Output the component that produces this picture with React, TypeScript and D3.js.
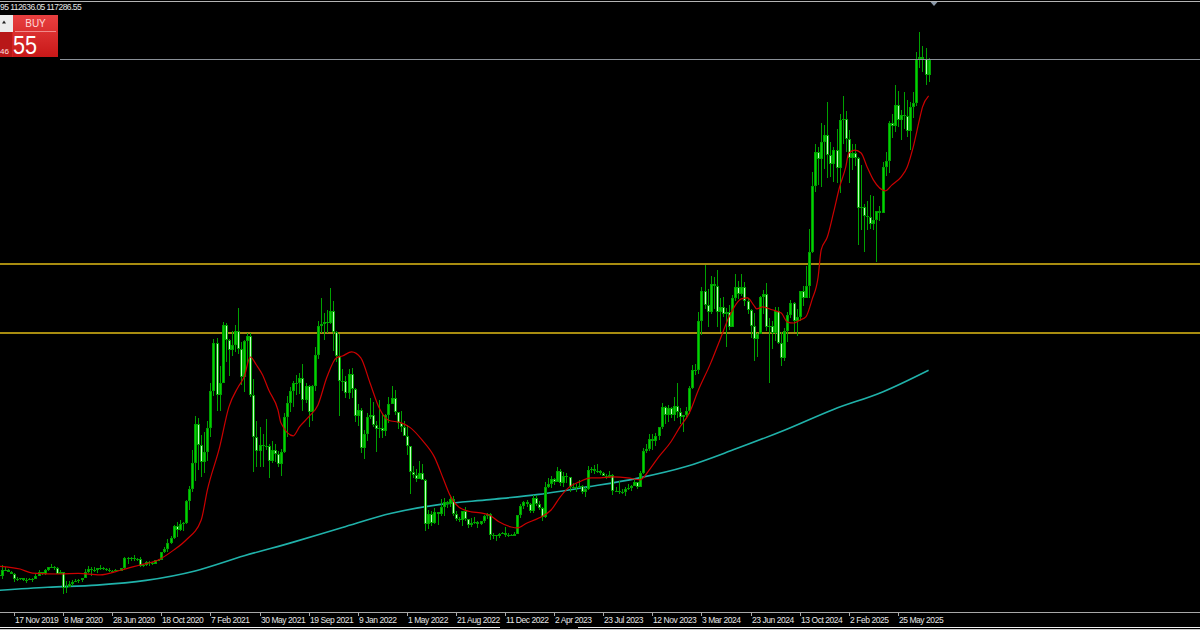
import React from "react";
import * as d3 from "d3";

// ---- Weekly BTCUSD candles (thousands of USD), weeks starting Sunday 13 Oct 2019 ----
const startDate = "2019-10-13";
const firstOpen = 8.3;

const closes = [
  7.95, 9.25, 9.3, 8.8, 8.5, 7.3, 7.4, 7.5, 7.1, 7.15, 7.3, 7.35,
  8.05, 8.9, 8.35, 9.35, 9.9, 9.9, 9.7, 8.55, 8.9, 5.4, 5.8, 6.25,
  6.8, 6.9, 7.25, 7.55, 8.9, 9.55, 9.4, 9.2, 9.7, 9.65, 9.45, 9.35,
  9.0, 9.1, 9.25, 9.15, 9.7, 11.8, 11.7, 11.9, 11.7, 11.7, 10.2, 10.4,
  11.05, 10.7, 10.6, 11.35, 11.5, 13.1, 13.8, 15.0, 16.0, 18.7, 17.7, 19.0,
  19.2, 24.0, 26.4, 32.0, 40.2, 35.8, 32.1, 34.3, 39.3, 47.2, 57.4, 46.3,
  48.9, 61.2, 58.1, 55.9, 57.0, 60.0, 56.2, 50.1, 57.8, 58.9, 46.4, 37.5,
  34.6, 35.8, 35.6, 35.5, 32.3, 34.7, 33.8, 31.8, 34.3, 41.6, 44.6, 47.1,
  49.0, 48.9, 50.0, 45.2, 48.3, 42.7, 48.2, 54.9, 60.9, 61.3, 61.8, 61.5,
  64.2, 59.7, 54.7, 49.4, 49.3, 46.7, 50.8, 47.7, 41.9, 43.1, 35.1, 38.1,
  41.6, 42.2, 40.1, 39.1, 39.4, 38.8, 42.2, 44.5, 45.8, 42.8, 40.4, 39.5,
  37.7, 35.5, 30.1, 29.4, 28.6, 29.9, 28.4, 19.0, 21.2, 19.3, 21.6, 21.2,
  22.6, 23.6, 23.2, 24.4, 21.2, 20.0, 19.8, 21.8, 20.1, 18.9, 19.3, 19.4,
  19.1, 19.6, 20.8, 21.2, 16.8, 16.7, 16.5, 17.0, 17.1, 16.8, 16.8, 16.55,
  17.0, 20.9, 22.9, 23.7, 23.3, 21.8, 24.6, 23.2, 22.4, 20.6, 26.9, 27.5,
  28.5, 28.0, 30.3, 27.8, 29.3, 28.9, 26.8, 26.9, 26.9, 27.1, 25.9, 26.5,
  30.5, 30.6, 30.2, 30.3, 29.8, 29.3, 29.0, 29.4, 26.1, 26.0, 25.9, 25.9,
  26.5, 26.6, 27.0, 27.9, 26.9, 29.9, 34.5, 35.0, 37.1, 36.6, 37.7, 39.5,
  43.8, 42.1, 43.7, 42.1, 44.0, 42.8, 41.6, 42.1, 43.0, 47.8, 51.6, 51.7,
  62.0, 68.3, 65.4, 64.0, 69.9, 69.4, 64.0, 64.9, 63.4, 64.0, 60.8, 67.0,
  69.3, 67.7, 69.3, 66.2, 64.3, 60.9, 58.2, 59.2, 67.1, 67.8, 60.7, 60.9,
  59.5, 64.2, 57.3, 54.1, 60.0, 63.3, 65.9, 62.1, 62.9, 68.4, 67.0, 69.4,
  76.6, 90.6, 97.9, 96.4, 99.9, 101.4, 97.2, 95.3, 98.3, 94.5, 104.5, 104.7,
  100.6, 96.5, 97.5, 96.6, 86.0, 86.2, 84.3, 84.0, 82.6, 83.5, 85.3, 85.0,
  94.6, 96.0, 104.0, 103.3, 107.8, 104.6, 105.6, 105.5, 102.2, 107.3, 108.2, 117.5,
  117.9, 117.6, 114.2, 117.3,
];

const highs = [
  8.45, 10.4, 9.95, 9.5, 9.1, 8.6, 7.8, 7.6, 7.6, 7.5, 7.7, 7.6,
  8.45, 9.2, 8.95, 9.55, 9.95, 10.5, 10.2, 9.95, 9.2, 8.95, 6.9, 6.95,
  7.2, 7.45, 7.3, 7.7, 9.45, 10.05, 9.95, 9.85, 9.75, 10.4, 9.95, 9.7,
  9.8, 9.3, 9.45, 9.35, 9.75, 12.0, 12.1, 12.1, 12.5, 11.8, 12.05, 10.6,
  11.2, 11.1, 10.95, 11.5, 11.7, 13.2, 14.1, 15.95, 16.5, 18.8, 19.4, 19.9,
  19.4, 24.2, 27.0, 34.8, 41.9, 41.4, 37.8, 38.5, 40.9, 49.0, 58.3, 58.4,
  52.6, 61.8, 61.7, 58.3, 60.0, 61.2, 64.8, 57.5, 58.0, 59.5, 59.5, 49.8,
  40.8, 39.5, 38.0, 41.3, 36.0, 36.6, 35.9, 34.6, 35.0, 42.6, 46.2, 48.1,
  49.4, 50.5, 51.0, 52.9, 48.8, 48.4, 48.4, 56.6, 62.0, 67.0, 63.7, 64.3,
  69.0, 66.3, 59.9, 59.2, 51.9, 50.4, 51.9, 52.0, 47.9, 44.4, 43.5, 38.9,
  42.6, 45.8, 44.8, 40.9, 45.4, 42.5, 42.4, 46.0, 48.2, 47.4, 42.8, 42.9,
  40.8, 40.0, 35.5, 31.4, 30.6, 32.3, 31.7, 28.5, 22.0, 21.8, 22.5, 21.6,
  24.3, 24.6, 24.0, 25.2, 25.0, 21.8, 20.6, 21.8, 22.7, 20.2, 20.4, 20.5,
  19.6, 19.7, 21.0, 21.4, 21.4, 17.2, 16.8, 17.2, 17.4, 18.4, 17.1, 16.9,
  17.4, 21.0, 23.3, 23.9, 24.2, 23.4, 25.2, 25.2, 23.9, 22.6, 28.0, 28.8,
  29.2, 28.8, 31.0, 30.6, 30.0, 29.8, 29.0, 27.7, 27.5, 28.4, 27.4, 26.8,
  31.4, 31.0, 31.5, 31.8, 30.4, 30.0, 29.7, 30.2, 29.7, 26.8, 28.1, 26.4,
  26.8, 27.5, 27.2, 28.6, 28.0, 30.3, 35.2, 35.9, 38.0, 38.0, 38.4, 39.6,
  44.7, 44.0, 44.3, 43.9, 45.9, 49.0, 43.6, 42.2, 43.9, 48.2, 52.8, 52.9,
  64.0, 69.2, 73.8, 68.9, 71.6, 71.3, 72.8, 66.9, 67.2, 64.7, 65.5, 67.6,
  71.9, 70.6, 72.0, 70.2, 67.0, 64.5, 63.8, 59.5, 67.4, 68.5, 70.0, 62.7,
  62.0, 65.0, 64.9, 59.8, 60.6, 64.0, 66.5, 66.0, 64.5, 68.4, 69.5, 73.6,
  81.5, 93.5, 99.6, 98.9, 104.0, 103.5, 108.3, 99.9, 98.9, 102.7, 105.9, 109.6,
  106.4, 102.5, 99.5, 99.5, 96.8, 95.0, 86.8, 87.5, 88.8, 88.5, 83.9, 86.4,
  95.8, 97.9, 104.3, 105.8, 111.9, 110.7, 106.8, 110.5, 108.9, 108.5, 110.5, 118.9,
  123.2, 120.2, 119.8, 117.7,
];

const lows = [
  7.9, 7.3, 9.05, 8.8, 8.4, 6.8, 6.9, 7.1, 7.0, 6.45, 7.1, 6.85,
  7.3, 8.0, 8.25, 8.3, 9.1, 9.7, 9.3, 8.45, 8.5, 4.3, 4.5, 5.7,
  5.85, 6.75, 6.55, 6.85, 7.5, 8.7, 8.1, 8.8, 8.6, 9.3, 9.2, 9.15,
  8.85, 8.95, 9.05, 9.05, 9.1, 9.6, 10.6, 11.1, 11.3, 11.1, 9.9, 9.9,
  10.2, 10.1, 10.45, 10.5, 11.2, 11.4, 12.95, 13.2, 14.8, 15.8, 16.2, 17.6,
  17.6, 19.0, 21.9, 25.8, 28.1, 30.4, 28.9, 29.8, 32.3, 37.4, 46.2, 43.0,
  43.0, 49.1, 53.3, 50.4, 54.7, 55.5, 55.0, 48.5, 47.0, 53.0, 46.0, 30.0,
  31.1, 31.0, 31.0, 34.8, 28.8, 32.0, 32.1, 31.0, 29.3, 34.0, 37.5, 42.8,
  43.9, 46.4, 46.5, 42.9, 44.7, 39.6, 40.8, 47.1, 53.9, 59.5, 58.0, 59.5,
  61.4, 55.7, 53.3, 42.0, 47.1, 45.7, 45.6, 45.7, 40.7, 39.7, 34.0, 32.9,
  36.6, 41.3, 39.6, 34.3, 37.3, 37.2, 37.6, 40.5, 44.4, 42.1, 39.2, 38.6,
  37.6, 33.7, 25.4, 28.7, 28.0, 28.6, 28.9, 17.6, 18.0, 18.6, 19.0, 18.9,
  20.7, 20.7, 22.5, 22.7, 20.8, 19.6, 19.5, 18.6, 19.6, 18.2, 18.5, 19.1,
  18.2, 18.9, 19.2, 20.0, 15.6, 15.8, 15.5, 16.0, 16.9, 16.3, 16.3, 16.4,
  16.5, 16.9, 20.4, 22.3, 22.6, 21.4, 21.4, 22.9, 21.9, 19.6, 20.3, 26.6,
  26.6, 27.2, 28.0, 27.1, 26.9, 27.7, 25.8, 26.4, 25.9, 26.6, 25.4, 24.8,
  26.3, 29.9, 29.7, 29.9, 29.5, 29.1, 28.6, 28.7, 25.2, 25.8, 25.4, 25.4,
  24.9, 26.3, 26.0, 27.0, 26.5, 26.8, 29.7, 34.1, 34.5, 34.8, 35.6, 36.9,
  39.2, 40.2, 40.6, 41.4, 40.8, 41.5, 40.3, 38.5, 41.8, 42.3, 47.7, 50.5,
  50.9, 59.0, 64.5, 60.8, 63.6, 64.5, 60.7, 59.6, 62.8, 56.5, 60.2, 60.7,
  66.3, 66.7, 67.4, 65.1, 63.4, 58.4, 53.5, 54.3, 59.2, 63.5, 60.0, 49.0,
  56.1, 57.8, 57.2, 52.5, 53.6, 57.5, 62.6, 59.8, 58.9, 62.0, 65.1, 67.0,
  66.8, 76.5, 89.4, 90.8, 90.5, 94.2, 92.2, 92.5, 91.5, 91.2, 89.2, 99.5,
  97.8, 91.2, 94.1, 94.9, 78.2, 81.4, 76.6, 81.2, 81.6, 81.2, 74.5, 83.1,
  84.8, 92.8, 93.4, 100.8, 102.1, 103.1, 100.4, 102.7, 101.0, 98.2, 105.0, 107.5,
  115.7, 114.7, 112.0, 112.6,
];

// ---- Moving average (bar index, value in thousands) ----
const fastMaIdx = [
  0, 7, 11, 20, 26, 33, 40, 46, 52, 57, 61, 66, 68, 72, 75, 78, 80, 82, 84, 86,
  88, 91, 92, 96, 98, 101, 104, 107, 110, 112, 115, 118, 121, 124, 127, 131, 134, 138,
  142, 145, 147, 150, 154, 157, 160, 163, 167, 169, 172, 176, 180, 183, 186, 189, 193,
  196, 200, 205, 209, 212, 215, 219, 222, 225, 228, 232, 235, 238, 242, 244, 246, 247,
  249, 252, 255, 257, 259, 261, 263, 265, 267, 268, 270, 272, 274, 276, 277, 279, 281,
  283, 285, 289, 291, 294, 296, 298, 300, 301, 303,
];
const fastMaVals = [
  10.1, 9.5, 8.65, 8.45, 8.6, 8.25, 9.3, 10.35, 11.4, 13.5, 15.6, 19.9, 26.2, 35.3, 43.8, 48.0, 50.2, 54.4, 52.7, 50.6,
  47.4, 43.2, 40.4, 37.7, 39.6, 41.7, 44.2, 50.2, 54.2, 54.6, 55.5, 54.2, 48.9, 43.6, 41.0, 40.5, 39.5, 36.8,
  33.2, 28.4, 25.2, 22.6, 21.6, 21.4, 20.9, 19.5, 18.4, 18.2, 19.2, 20.3, 22.0, 24.8, 26.9, 27.9, 28.8,
  28.8, 29.0, 28.8, 28.4, 30.5, 33.2, 36.4, 39.6, 42.5, 47.4, 53.1, 58.0, 62.9, 66.7, 66.9, 65.4, 64.6,
  65.0, 64.4, 63.7, 61.8, 61.6, 62.2, 62.9, 66.5, 71.3, 77.1, 79.8, 84.9, 90.4, 94.6, 97.6, 98.2, 97.6,
  94.6, 91.9, 89.6, 90.8, 92.5, 94.6, 98.9, 104.6, 107.3, 109.7,
];

const slowMaIdx = [0, 16, 32, 48, 64, 80, 96, 112, 128, 144, 160, 176, 192, 208, 224, 240, 256, 272, 288, 303];
const slowMaVals = [5.0, 5.65, 6.1, 7.1, 9.1, 12.3, 15.2, 18.3, 21.3, 23.2, 24.2, 25.3, 26.9, 28.7, 31.2, 34.9, 38.9, 43.3, 47.0, 51.6];

const tickLabels = [
  "17 Nov 2019", "8 Mar 2020", "28 Jun 2020", "18 Oct 2020", "7 Feb 2021", "30 May 2021",
  "19 Sep 2021", "9 Jan 2022", "1 May 2022", "21 Aug 2022", "11 Dec 2022", "2 Apr 2023",
  "23 Jul 2023", "12 Nov 2023", "3 Mar 2024", "23 Jun 2024", "13 Oct 2024", "2 Feb 2025",
  "25 May 2025",
];

const levelLines = [74.1, 59.5];
const bidPrice = 117.29;
const headerText = "95 112636.05 117286.55";
const buyBig = "55";
const buySmall = "46";

const COL_BORDER = "#00a000";
const COL_BULL = "#00d400";
const COL_BEAR = "#c0ffc0";

export default function App() {
  const W = 1200;
  const H = 630;
  const parseDay = d3.utcParse("%Y-%m-%d");
  const parseTick = d3.utcParse("%e %b %Y");
  const t0 = parseDay(startDate) as Date;
  const dates = closes.map((_, i) => d3.utcWeek.offset(t0, i));
  const opens = [firstOpen, ...closes.slice(0, -1)];

  const x = d3
    .scaleUtc()
    .domain([dates[0], dates[dates.length - 1]])
    .range([-1.35, 928.6]);
  const y = d3.scaleLinear().domain([0.4, 130]).range([612, 0]);

  const fastLine = d3
    .line<number>()
    .x((idx) => x(dates[idx]))
    .y((_, k) => y(fastMaVals[k]))
    .curve(d3.curveMonotoneX);
  const slowLine = d3
    .line<number>()
    .x((idx) => x(dates[idx]))
    .y((_, k) => y(slowMaVals[k]))
    .curve(d3.curveMonotoneX);

  const candles = dates.map((d, i) => {
    const cx = Math.round(x(d));
    const o = opens[i];
    const c = closes[i];
    const yh = Math.round(y(highs[i]));
    const yl = Math.round(y(lows[i]));
    const top = Math.round(y(Math.max(o, c)));
    const bot = Math.round(y(Math.min(o, c)));
    const bh = Math.max(1, bot - top);
    const bull = c >= o;
    return (
      <g key={i}>
        <rect x={cx} y={yh} width={1} height={Math.max(1, yl - yh)} fill={COL_BORDER} />
        <rect x={cx - 1} y={top} width={3} height={bh} fill={COL_BORDER} />
        {bh > 2 && (
          <rect x={cx} y={top + 1} width={1} height={bh - 2} fill={bull ? COL_BULL : COL_BEAR} />
        )}
      </g>
    );
  });

  const ticks = tickLabels.map((lab) => ({ lab, px: Math.round(x(parseTick(lab) as Date)) }));
  const bidY = Math.round(y(bidPrice)) - 0.5;

  return (
    <svg
      width={W}
      height={H}
      style={{ position: "fixed", left: 0, top: 0, background: "#000" }}
      shapeRendering="crispEdges"
    >
      <rect x={0} y={0} width={W} height={H} fill="#000" />
      {/* top border */}
      <line x1={0} x2={W} y1={1.5} y2={1.5} stroke="#b4b4b4" strokeWidth={1} />
      {/* shift marker */}
      <path d="M930.5,2 L937.5,2 L934,6 Z" fill="#8a98a8" shapeRendering="auto" />

      {/* horizontal levels */}
      {levelLines.map((v, k) => (
        <line key={k} x1={0} x2={W} y1={Math.round(y(v))} y2={Math.round(y(v))} stroke="#a88c10" strokeWidth={2} />
      ))}

      {/* slow MA */}
      <path d={slowLine(slowMaIdx) || ""} fill="none" stroke="#20b2aa" strokeWidth={1.6} shapeRendering="auto" />

      {/* candles */}
      {candles}

      {/* fast MA */}
      <path d={fastLine(fastMaIdx) || ""} fill="none" stroke="#cc0000" strokeWidth={1.2} shapeRendering="auto" />

      {/* bid line */}
      <line x1={60} x2={W} y1={bidY} y2={bidY} stroke="#8a9098" strokeWidth={1} />

      {/* header */}
      <text
        x={0}
        y={10}
        fill="#e6e6e6"
        fontFamily="'Liberation Sans', Arial, sans-serif"
        fontSize={8.5}
        letterSpacing={-0.55}
      >
        {headerText}
      </text>

      {/* one-click trading panel */}
      <defs>
        <linearGradient id="redg" x1="0" y1="0" x2="0" y2="1">
          <stop offset="0" stopColor="#e84040" />
          <stop offset="1" stopColor="#c81818" />
        </linearGradient>
      </defs>
      <rect x={0} y={15} width={13} height={17} fill="#ececec" />
      <path d="M2,23.5 L6,23.5 L4,20.5 Z" fill="#202020" shapeRendering="auto" />
      <rect x={0} y={32} width={58} height={25} fill="#d42222" />
      <rect x={0} y={32} width={12} height={25} fill="#b81818" />
      <rect x={13} y={15} width={45} height={42} fill="url(#redg)" />
      <line x1={15} x2={56} y1={31.5} y2={31.5} stroke="#f08a8a" strokeWidth={1} />
      <text
        x={35.5}
        y={27}
        textAnchor="middle"
        fill="#ffd8d8"
        fontFamily="'Liberation Sans', Arial, sans-serif"
        fontSize={10}
      >
        BUY
      </text>
      <text
        x={13}
        y={54}
        fill="#ffffff"
        fontFamily="'Liberation Sans', Arial, sans-serif"
        fontSize={26}
        textLength={24}
        lengthAdjust="spacingAndGlyphs"
      >
        {buyBig}
      </text>
      <text
        x={9}
        y={53.5}
        textAnchor="end"
        fill="#ffe0e0"
        fontFamily="'Liberation Sans', Arial, sans-serif"
        fontSize={8}
      >
        {buySmall}
      </text>

      {/* time axis */}
      <line x1={0} x2={W} y1={612.5} y2={612.5} stroke="#a8a8a8" strokeWidth={1} />
      {ticks.map((t) => (
        <g key={t.lab}>
          <line x1={t.px + 0.5} x2={t.px + 0.5} y1={612} y2={616} stroke="#a8a8a8" strokeWidth={1} />
          <text
            x={t.px + 1}
            y={623}
            fill="#e6e6e6"
            fontFamily="'Liberation Sans', Arial, sans-serif"
            fontSize={8.5}
            letterSpacing={-0.45}
          >
            {t.lab}
          </text>
        </g>
      ))}

      {/* bottom tab bar */}
      <line x1={0} x2={500} y1={627.5} y2={627.5} stroke="#f0f0f0" strokeWidth={1} />
      <line x1={578} x2={W} y1={627.5} y2={627.5} stroke="#f0f0f0" strokeWidth={1} />
      <line x1={0} x2={W} y1={629.5} y2={629.5} stroke="#c8c8c8" strokeWidth={1} />
    </svg>
  );
}
